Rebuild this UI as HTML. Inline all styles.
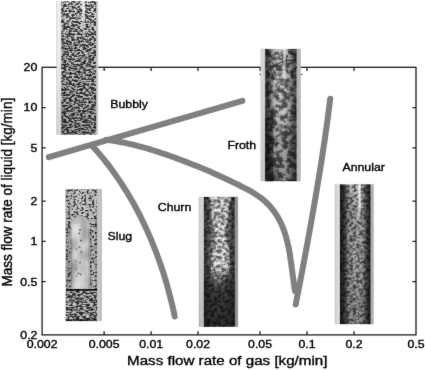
<!DOCTYPE html>
<html><head><meta charset="utf-8"><style>
html,body{margin:0;padding:0;background:#fff;width:425px;height:370px;overflow:hidden}
svg{display:block}
text{font-family:'Liberation Sans', Arial, Helvetica, sans-serif;fill:#000;stroke:#000;stroke-width:0.35px}
</style></head><body>
<svg width="425" height="370" viewBox="0 0 425 370">
<defs><linearGradient id="g1" gradientUnits="userSpaceOnUse" x1="56.5" y1="0" x2="61.2" y2="0"><stop offset="0.0000" stop-color="#c4c4c4"/><stop offset="0.1915" stop-color="#e6e6e6"/><stop offset="0.4255" stop-color="#f2f2f2"/><stop offset="0.8298" stop-color="#ececec"/><stop offset="1.0000" stop-color="#c0c0c0"/></linearGradient><linearGradient id="g2" gradientUnits="userSpaceOnUse" x1="0" y1="1.0" x2="0" y2="134.8"><stop offset="0.0000" stop-color="#000" stop-opacity="0"/><stop offset="0.5157" stop-color="#000" stop-opacity="0.03"/><stop offset="1.0000" stop-color="#000" stop-opacity="0.12"/></linearGradient><linearGradient id="g3" gradientUnits="userSpaceOnUse" x1="96.2" y1="0" x2="98.1" y2="0"><stop offset="0.0000" stop-color="#a8a8a8"/><stop offset="0.4211" stop-color="#c8c8c8"/><stop offset="1.0000" stop-color="#d0d0d0"/></linearGradient><filter id="f4" filterUnits="userSpaceOnUse" x="61.2" y="1.0" width="35.0" height="133.8" color-interpolation-filters="sRGB">
<feTurbulence type="fractalNoise" baseFrequency="0.36 0.56" numOctaves="2" seed="7" result="t"/>
<feColorMatrix in="t" type="matrix" values="1 0 0 0 0 1 0 0 0 0 1 0 0 0 0 0 0 0 0 1" result="g"/>
<feComponentTransfer in="g" result="m"><feFuncR type="table" tableValues="0.140 0.145 0.150 0.155 0.160 0.165 0.170 0.175 0.180 0.185 0.190 0.195 0.200 0.205 0.210 0.215 0.220 0.290 0.360 0.430 0.500 0.606 0.713 0.819 0.848 0.857 0.867 0.876 0.886 0.895 0.905 0.914 0.924 0.933 0.943 0.952 0.962 0.971 0.981 0.990 1.000"/><feFuncG type="table" tableValues="0.140 0.145 0.150 0.155 0.160 0.165 0.170 0.175 0.180 0.185 0.190 0.195 0.200 0.205 0.210 0.215 0.220 0.290 0.360 0.430 0.500 0.606 0.713 0.819 0.848 0.857 0.867 0.876 0.886 0.895 0.905 0.914 0.924 0.933 0.943 0.952 0.962 0.971 0.981 0.990 1.000"/><feFuncB type="table" tableValues="0.140 0.145 0.150 0.155 0.160 0.165 0.170 0.175 0.180 0.185 0.190 0.195 0.200 0.205 0.210 0.215 0.220 0.290 0.360 0.430 0.500 0.606 0.713 0.819 0.848 0.857 0.867 0.876 0.886 0.895 0.905 0.914 0.924 0.933 0.943 0.952 0.962 0.971 0.981 0.990 1.000"/></feComponentTransfer>
<feComposite in="SourceGraphic" in2="m" operator="arithmetic" k1="1" k2="0" k3="0" k4="0" result="c"/>
<feGaussianBlur in="c" stdDeviation="0.35" result="b"/>
<feComposite in="b" in2="SourceGraphic" operator="in"/>
</filter><linearGradient id="g5" gradientUnits="userSpaceOnUse" x1="0" y1="1.0" x2="0" y2="134.8"><stop offset="0.0000" stop-color="#000" stop-opacity="0"/><stop offset="0.2915" stop-color="#000" stop-opacity="0.03"/><stop offset="0.6652" stop-color="#000" stop-opacity="0.08"/><stop offset="1.0000" stop-color="#000" stop-opacity="0.18"/></linearGradient><linearGradient id="g6" gradientUnits="userSpaceOnUse" x1="0" y1="1.0" x2="0" y2="51.0"><stop offset="0.0000" stop-color="#ffffff" stop-opacity="0.9"/><stop offset="0.3800" stop-color="#ffffff" stop-opacity="0.5"/><stop offset="1.0000" stop-color="#ffffff" stop-opacity="0"/></linearGradient><linearGradient id="g7" gradientUnits="userSpaceOnUse" x1="0" y1="1" x2="0" y2="37"><stop offset="0.0000" stop-color="#fff" stop-opacity="0.9"/><stop offset="0.5278" stop-color="#fff" stop-opacity="0.7"/><stop offset="1.0000" stop-color="#fff" stop-opacity="0"/></linearGradient><linearGradient id="g8" gradientUnits="userSpaceOnUse" x1="0" y1="1" x2="0" y2="11"><stop offset="0.0000" stop-color="#fff" stop-opacity="0.45"/><stop offset="1.0000" stop-color="#fff" stop-opacity="0"/></linearGradient><linearGradient id="g9" gradientUnits="userSpaceOnUse" x1="0" y1="1" x2="0" y2="11"><stop offset="0.0000" stop-color="#fff" stop-opacity="0.45"/><stop offset="1.0000" stop-color="#fff" stop-opacity="0"/></linearGradient><linearGradient id="g10" gradientUnits="userSpaceOnUse" x1="260.6" y1="0" x2="265.1" y2="0"><stop offset="0.0000" stop-color="#c4c4c4"/><stop offset="0.1778" stop-color="#d8d8d8"/><stop offset="0.8000" stop-color="#d6d6d6"/><stop offset="1.0000" stop-color="#b4b4b4"/></linearGradient><linearGradient id="g11" gradientUnits="userSpaceOnUse" x1="0" y1="48.7" x2="0" y2="181.39999999999998"><stop offset="0.0000" stop-color="#000" stop-opacity="0"/><stop offset="0.5373" stop-color="#000" stop-opacity="0.04"/><stop offset="1.0000" stop-color="#000" stop-opacity="0.08"/></linearGradient><linearGradient id="g12" gradientUnits="userSpaceOnUse" x1="296.8" y1="0" x2="300.9" y2="0"><stop offset="0.0000" stop-color="#949494"/><stop offset="0.1951" stop-color="#b4b4b4"/><stop offset="1.0000" stop-color="#bcbcbc"/></linearGradient><filter id="f13" filterUnits="userSpaceOnUse" x="265.1" y="48.7" width="31.69999999999999" height="132.7" color-interpolation-filters="sRGB">
<feTurbulence type="fractalNoise" baseFrequency="0.17 0.19" numOctaves="4" seed="3" result="t"/>
<feColorMatrix in="t" type="matrix" values="1 0 0 0 0 1 0 0 0 0 1 0 0 0 0 0 0 0 0 1" result="g"/>
<feComponentTransfer in="g" result="m"><feFuncR type="table" tableValues="0.300 0.305 0.311 0.316 0.321 0.326 0.332 0.337 0.342 0.347 0.353 0.358 0.363 0.368 0.374 0.379 0.420 0.470 0.520 0.570 0.620 0.690 0.760 0.830 0.900 0.906 0.912 0.919 0.925 0.931 0.938 0.944 0.950 0.956 0.963 0.969 0.975 0.981 0.988 0.994 1.000"/><feFuncG type="table" tableValues="0.300 0.305 0.311 0.316 0.321 0.326 0.332 0.337 0.342 0.347 0.353 0.358 0.363 0.368 0.374 0.379 0.420 0.470 0.520 0.570 0.620 0.690 0.760 0.830 0.900 0.906 0.912 0.919 0.925 0.931 0.938 0.944 0.950 0.956 0.963 0.969 0.975 0.981 0.988 0.994 1.000"/><feFuncB type="table" tableValues="0.300 0.305 0.311 0.316 0.321 0.326 0.332 0.337 0.342 0.347 0.353 0.358 0.363 0.368 0.374 0.379 0.420 0.470 0.520 0.570 0.620 0.690 0.760 0.830 0.900 0.906 0.912 0.919 0.925 0.931 0.938 0.944 0.950 0.956 0.963 0.969 0.975 0.981 0.988 0.994 1.000"/></feComponentTransfer>
<feComposite in="SourceGraphic" in2="m" operator="arithmetic" k1="1" k2="0" k3="0" k4="0" result="c"/>
<feGaussianBlur in="c" stdDeviation="0.35" result="b"/>
<feComposite in="b" in2="SourceGraphic" operator="in"/>
</filter><linearGradient id="g14" gradientUnits="userSpaceOnUse" x1="265.1" y1="0" x2="296.8" y2="0"><stop offset="0.0000" stop-color="#484848"/><stop offset="0.0915" stop-color="#555"/><stop offset="0.2019" stop-color="#909090"/><stop offset="0.3123" stop-color="#c8c8c8"/><stop offset="0.5962" stop-color="#d8d8d8"/><stop offset="0.7539" stop-color="#b0b0b0"/><stop offset="0.8486" stop-color="#787878"/><stop offset="1.0000" stop-color="#505050"/></linearGradient><linearGradient id="g15" gradientUnits="userSpaceOnUse" x1="0" y1="48.7" x2="0" y2="181.39999999999998"><stop offset="0.0000" stop-color="#000" stop-opacity="0"/><stop offset="0.4619" stop-color="#000" stop-opacity="0.0"/><stop offset="0.6880" stop-color="#000" stop-opacity="0.15"/><stop offset="1.0000" stop-color="#000" stop-opacity="0.28"/></linearGradient><linearGradient id="g16" gradientUnits="userSpaceOnUse" x1="0" y1="100" x2="0" y2="181.4"><stop offset="0.0000" stop-color="#000" stop-opacity="0"/><stop offset="0.3686" stop-color="#000" stop-opacity="0.35"/><stop offset="1.0000" stop-color="#000" stop-opacity="0.45"/></linearGradient><linearGradient id="g17" gradientUnits="userSpaceOnUse" x1="0" y1="48.7" x2="0" y2="93"><stop offset="0.0000" stop-color="#fff" stop-opacity="0.6"/><stop offset="0.5937" stop-color="#fff" stop-opacity="0.4"/><stop offset="1.0000" stop-color="#fff" stop-opacity="0"/></linearGradient><linearGradient id="g18" gradientUnits="userSpaceOnUse" x1="97.1" y1="0" x2="101.9" y2="0"><stop offset="0.0000" stop-color="#a0a0a0"/><stop offset="0.1875" stop-color="#c8c8c8"/><stop offset="0.6042" stop-color="#c4c4c4"/><stop offset="1.0000" stop-color="#b8b8b8"/></linearGradient><filter id="f19" filterUnits="userSpaceOnUse" x="65.0" y="188.8" width="32.099999999999994" height="100.69999999999999" color-interpolation-filters="sRGB">
<feTurbulence type="fractalNoise" baseFrequency="0.38 0.5" numOctaves="2" seed="11" result="t"/>
<feColorMatrix in="t" type="matrix" values="1 0 0 0 0 1 0 0 0 0 1 0 0 0 0 0 0 0 0 1" result="g"/>
<feComponentTransfer in="g" result="m"><feFuncR type="table" tableValues="0.220 0.226 0.231 0.237 0.242 0.248 0.253 0.259 0.264 0.270 0.276 0.281 0.287 0.292 0.298 0.363 0.469 0.574 0.680 0.776 0.873 0.951 0.953 0.956 0.958 0.961 0.964 0.966 0.969 0.971 0.974 0.977 0.979 0.982 0.984 0.987 0.990 0.992 0.995 0.997 1.000"/><feFuncG type="table" tableValues="0.220 0.226 0.231 0.237 0.242 0.248 0.253 0.259 0.264 0.270 0.276 0.281 0.287 0.292 0.298 0.363 0.469 0.574 0.680 0.776 0.873 0.951 0.953 0.956 0.958 0.961 0.964 0.966 0.969 0.971 0.974 0.977 0.979 0.982 0.984 0.987 0.990 0.992 0.995 0.997 1.000"/><feFuncB type="table" tableValues="0.220 0.226 0.231 0.237 0.242 0.248 0.253 0.259 0.264 0.270 0.276 0.281 0.287 0.292 0.298 0.363 0.469 0.574 0.680 0.776 0.873 0.951 0.953 0.956 0.958 0.961 0.964 0.966 0.969 0.971 0.974 0.977 0.979 0.982 0.984 0.987 0.990 0.992 0.995 0.997 1.000"/></feComponentTransfer>
<feComposite in="SourceGraphic" in2="m" operator="arithmetic" k1="1" k2="0" k3="0" k4="0" result="c"/>
<feGaussianBlur in="c" stdDeviation="0.35" result="b"/>
<feComposite in="b" in2="SourceGraphic" operator="in"/>
</filter><linearGradient id="g20" gradientUnits="userSpaceOnUse" x1="65.0" y1="0" x2="97.1" y2="0"><stop offset="0.0000" stop-color="#d8d8d8"/><stop offset="0.0312" stop-color="#b0b0b0"/><stop offset="0.1090" stop-color="#c0c0c0"/><stop offset="0.2181" stop-color="#c8c8c8"/><stop offset="0.5296" stop-color="#d4d4d4"/><stop offset="0.8411" stop-color="#c4c4c4"/><stop offset="1.0000" stop-color="#c8c8c8"/></linearGradient><filter id="f21" filterUnits="userSpaceOnUse" x="70" y="214" width="21" height="75.5" color-interpolation-filters="sRGB">
<feTurbulence type="fractalNoise" baseFrequency="0.08 0.05" numOctaves="2" seed="4" result="t"/>
<feColorMatrix in="t" type="matrix" values="1 0 0 0 0 1 0 0 0 0 1 0 0 0 0 0 0 0 0 1" result="g"/>
<feComposite in="SourceGraphic" in2="g" operator="arithmetic" k1="0" k2="1" k3="0.5" k4="-0.250" result="c"/>
<feGaussianBlur in="c" stdDeviation="0.5" result="b"/>
<feComposite in="b" in2="SourceGraphic" operator="in"/>
</filter><filter id="f22" filterUnits="userSpaceOnUse" x="65.0" y="289.5" width="32.099999999999994" height="31.69999999999999" color-interpolation-filters="sRGB">
<feTurbulence type="fractalNoise" baseFrequency="0.3 0.55" numOctaves="2" seed="21" result="t"/>
<feColorMatrix in="t" type="matrix" values="1 0 0 0 0 1 0 0 0 0 1 0 0 0 0 0 0 0 0 1" result="g"/>
<feComponentTransfer in="g" result="m"><feFuncR type="table" tableValues="0.140 0.145 0.150 0.155 0.160 0.165 0.170 0.175 0.180 0.185 0.190 0.195 0.200 0.205 0.210 0.215 0.220 0.290 0.360 0.430 0.500 0.606 0.713 0.819 0.848 0.857 0.867 0.876 0.886 0.895 0.905 0.914 0.924 0.933 0.943 0.952 0.962 0.971 0.981 0.990 1.000"/><feFuncG type="table" tableValues="0.140 0.145 0.150 0.155 0.160 0.165 0.170 0.175 0.180 0.185 0.190 0.195 0.200 0.205 0.210 0.215 0.220 0.290 0.360 0.430 0.500 0.606 0.713 0.819 0.848 0.857 0.867 0.876 0.886 0.895 0.905 0.914 0.924 0.933 0.943 0.952 0.962 0.971 0.981 0.990 1.000"/><feFuncB type="table" tableValues="0.140 0.145 0.150 0.155 0.160 0.165 0.170 0.175 0.180 0.185 0.190 0.195 0.200 0.205 0.210 0.215 0.220 0.290 0.360 0.430 0.500 0.606 0.713 0.819 0.848 0.857 0.867 0.876 0.886 0.895 0.905 0.914 0.924 0.933 0.943 0.952 0.962 0.971 0.981 0.990 1.000"/></feComponentTransfer>
<feComposite in="SourceGraphic" in2="m" operator="arithmetic" k1="1" k2="0" k3="0" k4="0" result="c"/>
<feGaussianBlur in="c" stdDeviation="0.35" result="b"/>
<feComposite in="b" in2="SourceGraphic" operator="in"/>
</filter><linearGradient id="g23" gradientUnits="userSpaceOnUse" x1="198.8" y1="0" x2="203.8" y2="0"><stop offset="0.0000" stop-color="#b4b4b4"/><stop offset="0.2000" stop-color="#d2d2d2"/><stop offset="0.6400" stop-color="#d8d8d8"/><stop offset="0.8800" stop-color="#c8c8c8"/><stop offset="1.0000" stop-color="#a0a0a0"/></linearGradient><linearGradient id="g24" gradientUnits="userSpaceOnUse" x1="0" y1="196.7" x2="0" y2="326.8"><stop offset="0.0000" stop-color="#000" stop-opacity="0"/><stop offset="0.4865" stop-color="#000" stop-opacity="0.03"/><stop offset="1.0000" stop-color="#000" stop-opacity="0.12"/></linearGradient><linearGradient id="g25" gradientUnits="userSpaceOnUse" x1="234.9" y1="0" x2="238.1" y2="0"><stop offset="0.0000" stop-color="#7a7a7a"/><stop offset="0.2813" stop-color="#929292"/><stop offset="1.0000" stop-color="#9c9c9c"/></linearGradient><filter id="f26" filterUnits="userSpaceOnUse" x="203.8" y="196.7" width="31.099999999999994" height="130.10000000000002" color-interpolation-filters="sRGB">
<feTurbulence type="fractalNoise" baseFrequency="0.28 0.32" numOctaves="2" seed="5" result="t"/>
<feColorMatrix in="t" type="matrix" values="1 0 0 0 0 1 0 0 0 0 1 0 0 0 0 0 0 0 0 1" result="g"/>
<feComponentTransfer in="g" result="m"><feFuncR type="table" tableValues="0.300 0.311 0.321 0.332 0.343 0.354 0.364 0.375 0.386 0.396 0.407 0.418 0.429 0.439 0.450 0.500 0.550 0.600 0.650 0.700 0.750 0.792 0.833 0.875 0.917 0.958 1.000 1.000 1.000 1.000 1.000 1.000 1.000 1.000 1.000 1.000 1.000 1.000 1.000 1.000 1.000"/><feFuncG type="table" tableValues="0.300 0.311 0.321 0.332 0.343 0.354 0.364 0.375 0.386 0.396 0.407 0.418 0.429 0.439 0.450 0.500 0.550 0.600 0.650 0.700 0.750 0.792 0.833 0.875 0.917 0.958 1.000 1.000 1.000 1.000 1.000 1.000 1.000 1.000 1.000 1.000 1.000 1.000 1.000 1.000 1.000"/><feFuncB type="table" tableValues="0.300 0.311 0.321 0.332 0.343 0.354 0.364 0.375 0.386 0.396 0.407 0.418 0.429 0.439 0.450 0.500 0.550 0.600 0.650 0.700 0.750 0.792 0.833 0.875 0.917 0.958 1.000 1.000 1.000 1.000 1.000 1.000 1.000 1.000 1.000 1.000 1.000 1.000 1.000 1.000 1.000"/></feComponentTransfer>
<feComposite in="SourceGraphic" in2="m" operator="arithmetic" k1="1" k2="0" k3="0" k4="0" result="c"/>
<feGaussianBlur in="c" stdDeviation="0.4" result="b"/>
<feComposite in="b" in2="SourceGraphic" operator="in"/>
</filter><linearGradient id="g27" gradientUnits="userSpaceOnUse" x1="203.8" y1="0" x2="234.9" y2="0"><stop offset="0.0000" stop-color="#3e3e3e"/><stop offset="0.1029" stop-color="#4c4c4c"/><stop offset="0.2315" stop-color="#7a7a7a"/><stop offset="0.3923" stop-color="#a0a0a0"/><stop offset="0.6495" stop-color="#9c9c9c"/><stop offset="0.8103" stop-color="#6a6a6a"/><stop offset="0.9068" stop-color="#4c4c4c"/><stop offset="1.0000" stop-color="#3c3c3c"/></linearGradient><linearGradient id="g28" gradientUnits="userSpaceOnUse" x1="0" y1="266" x2="0" y2="326.8"><stop offset="0.0000" stop-color="#262626" stop-opacity="0"/><stop offset="0.3618" stop-color="#262626" stop-opacity="0.7"/><stop offset="0.6414" stop-color="#262626" stop-opacity="0.84"/><stop offset="1.0000" stop-color="#262626" stop-opacity="0.9"/></linearGradient><linearGradient id="g29" gradientUnits="userSpaceOnUse" x1="334.8" y1="0" x2="340.0" y2="0"><stop offset="0.0000" stop-color="#bcbcbc"/><stop offset="0.1923" stop-color="#d0d0d0"/><stop offset="0.6154" stop-color="#dedede"/><stop offset="0.8846" stop-color="#d0d0d0"/><stop offset="1.0000" stop-color="#a8a8a8"/></linearGradient><linearGradient id="g30" gradientUnits="userSpaceOnUse" x1="370.8" y1="0" x2="374.0" y2="0"><stop offset="0.0000" stop-color="#909090"/><stop offset="0.2500" stop-color="#b0b0b0"/><stop offset="1.0000" stop-color="#c4c4c4"/></linearGradient><filter id="f31" filterUnits="userSpaceOnUse" x="340.0" y="184.2" width="30.80000000000001" height="140.2" color-interpolation-filters="sRGB">
<feTurbulence type="fractalNoise" baseFrequency="0.3 0.36" numOctaves="2" seed="9" result="t"/>
<feColorMatrix in="t" type="matrix" values="1 0 0 0 0 1 0 0 0 0 1 0 0 0 0 0 0 0 0 1" result="g"/>
<feComponentTransfer in="g" result="m"><feFuncR type="table" tableValues="0.300 0.311 0.321 0.332 0.343 0.354 0.364 0.375 0.386 0.396 0.407 0.418 0.429 0.439 0.450 0.500 0.550 0.600 0.650 0.700 0.750 0.792 0.833 0.875 0.917 0.958 1.000 1.000 1.000 1.000 1.000 1.000 1.000 1.000 1.000 1.000 1.000 1.000 1.000 1.000 1.000"/><feFuncG type="table" tableValues="0.300 0.311 0.321 0.332 0.343 0.354 0.364 0.375 0.386 0.396 0.407 0.418 0.429 0.439 0.450 0.500 0.550 0.600 0.650 0.700 0.750 0.792 0.833 0.875 0.917 0.958 1.000 1.000 1.000 1.000 1.000 1.000 1.000 1.000 1.000 1.000 1.000 1.000 1.000 1.000 1.000"/><feFuncB type="table" tableValues="0.300 0.311 0.321 0.332 0.343 0.354 0.364 0.375 0.386 0.396 0.407 0.418 0.429 0.439 0.450 0.500 0.550 0.600 0.650 0.700 0.750 0.792 0.833 0.875 0.917 0.958 1.000 1.000 1.000 1.000 1.000 1.000 1.000 1.000 1.000 1.000 1.000 1.000 1.000 1.000 1.000"/></feComponentTransfer>
<feComposite in="SourceGraphic" in2="m" operator="arithmetic" k1="1" k2="0" k3="0" k4="0" result="c"/>
<feGaussianBlur in="c" stdDeviation="0.4" result="b"/>
<feComposite in="b" in2="SourceGraphic" operator="in"/>
</filter><linearGradient id="g32" gradientUnits="userSpaceOnUse" x1="340.0" y1="0" x2="370.8" y2="0"><stop offset="0.0000" stop-color="#262626"/><stop offset="0.0974" stop-color="#2e2e2e"/><stop offset="0.1948" stop-color="#5a5a5a"/><stop offset="0.2922" stop-color="#a0a0a0"/><stop offset="0.5519" stop-color="#b4b4b4"/><stop offset="0.7468" stop-color="#a0a0a0"/><stop offset="0.8442" stop-color="#5a5a5a"/><stop offset="0.9091" stop-color="#363636"/><stop offset="1.0000" stop-color="#2c2c2c"/></linearGradient><linearGradient id="g33" gradientUnits="userSpaceOnUse" x1="0" y1="184.2" x2="0" y2="206"><stop offset="0.0000" stop-color="#fff" stop-opacity="0.35"/><stop offset="1.0000" stop-color="#fff" stop-opacity="0"/></linearGradient><linearGradient id="g34" gradientUnits="userSpaceOnUse" x1="0" y1="184.2" x2="0" y2="324.4"><stop offset="0.0000" stop-color="#000" stop-opacity="0"/><stop offset="0.4693" stop-color="#000" stop-opacity="0.0"/><stop offset="1.0000" stop-color="#000" stop-opacity="0.15"/></linearGradient><linearGradient id="g35" gradientUnits="userSpaceOnUse" x1="0" y1="184.2" x2="0" y2="222"><stop offset="0.0000" stop-color="#fff" stop-opacity="0.85"/><stop offset="0.6296" stop-color="#fff" stop-opacity="0.7"/><stop offset="1.0000" stop-color="#fff" stop-opacity="0"/></linearGradient><filter id="soft" filterUnits="userSpaceOnUse" x="0" y="0" width="425" height="370" color-interpolation-filters="sRGB"><feConvolveMatrix order="3" kernelMatrix="0.00524 0.06192 0.00524 0.06192 0.73137 0.06192 0.00524 0.06192 0.00524" edgeMode="duplicate"/></filter></defs>
<rect width="425" height="370" fill="#fff"/>
<g filter="url(#soft)">
<rect width="425" height="370" fill="#fff"/>
<rect x="42.1" y="67.3" width="373.90" height="267.60" fill="none" stroke="#1e1e1e" stroke-width="1.3"/>
<path d="M104.15,334.9v-3.6M104.15,67.3v3.6M151.09,334.9v-3.6M151.09,67.3v3.6M198.03,334.9v-3.6M198.03,67.3v3.6M260.07,334.9v-3.6M260.07,67.3v3.6M307.01,334.9v-3.6M307.01,67.3v3.6M353.95,334.9v-3.6M353.95,67.3v3.6M42.1,107.58h3.6M416.0,107.58h-3.6M42.1,147.86h3.6M416.0,147.86h-3.6M42.1,201.10h3.6M416.0,201.10h-3.6M42.1,241.38h3.6M416.0,241.38h-3.6M42.1,281.66h3.6M416.0,281.66h-3.6" stroke="#1e1e1e" stroke-width="1.3" fill="none"/>
<text transform="translate(26.75,347.70) scale(1.12,1)" font-size="11">0.002</text>
<text transform="translate(88.75,347.70) scale(1.12,1)" font-size="11">0.005</text>
<text transform="translate(139.15,347.70) scale(1.12,1)" font-size="11">0.01</text>
<text transform="translate(186.10,347.70) scale(1.12,1)" font-size="11">0.02</text>
<text transform="translate(248.10,347.70) scale(1.12,1)" font-size="11">0.05</text>
<text transform="translate(298.50,347.70) scale(1.12,1)" font-size="11">0.1</text>
<text transform="translate(345.45,347.70) scale(1.12,1)" font-size="11">0.2</text>
<text transform="translate(407.45,347.70) scale(1.12,1)" font-size="11">0.5</text>
<text transform="translate(23.57,71.15) scale(1.12,1)" font-size="11">20</text>
<text transform="translate(23.57,111.43) scale(1.12,1)" font-size="11">10</text>
<text transform="translate(30.47,151.71) scale(1.12,1)" font-size="11">5</text>
<text transform="translate(30.57,204.95) scale(1.12,1)" font-size="11">2</text>
<text transform="translate(30.54,245.23) scale(1.12,1)" font-size="11">1</text>
<text transform="translate(20.19,285.51) scale(1.12,1)" font-size="11">0.5</text>
<text transform="translate(20.29,338.75) scale(1.12,1)" font-size="11">0.2</text>
<text transform="translate(127.06,365.40) scale(1.12,1)" font-size="13.54" >Mass flow rate of gas [kg/min]</text>
<text transform="translate(11.6,286.51) rotate(-90) scale(1,1.12)" font-size="13.54">Mass flow rate of liquid [kg/min]</text>
<text transform="translate(110.29,107.60) scale(1.12,1)" font-size="11" >Bubbly</text>
<text transform="translate(227.39,149.10) scale(1.12,1)" font-size="11" >Froth</text>
<text transform="translate(342.48,171.00) scale(1.12,1)" font-size="11" >Annular</text>
<text transform="translate(107.53,240.00) scale(1.12,1)" font-size="11" >Slug</text>
<text transform="translate(157.78,210.60) scale(1.12,1)" font-size="11" >Churn</text>
<g fill="none" stroke="#808080" stroke-width="6" stroke-linecap="round">
<path d="M48.8,157.2 L242.4,100.8"/>
<path d="M91.5,145.0 L94.1,147.9 L96.8,150.9 L99.3,153.9 L101.8,156.9 L104.3,159.9 L106.8,163.0 L109.2,166.1 L111.5,169.3 L113.8,172.5 L116.1,175.7 L118.3,178.9 L120.5,182.2 L122.7,185.5 L124.8,188.8 L126.9,192.1 L128.9,195.5 L130.9,198.9 L132.9,202.3 L134.8,205.8 L136.6,209.2 L138.5,212.7 L140.3,216.2 L142.0,219.8 L143.8,223.3 L145.4,226.9 L147.1,230.5 L148.7,234.1 L150.3,237.7 L151.8,241.3 L153.3,245.0 L154.7,248.7 L156.2,252.3 L157.5,256.0 L158.9,259.7 L160.2,263.5 L161.5,267.2 L162.7,270.9 L163.9,274.7 L165.1,278.5 L166.2,282.2 L167.3,286.0 L168.3,289.8 L169.3,293.6 L170.3,297.4 L171.3,301.2 L172.2,305.0 L173.1,308.9 L173.9,312.7 L174.7,316.5"/>
<path d="M106.0,139.8 L109.9,140.3 L113.8,140.8 L117.6,141.5 L121.4,142.2 L125.3,142.9 L129.1,143.8 L132.8,144.6 L136.6,145.6 L140.4,146.6 L144.1,147.6 L147.9,148.7 L151.6,149.8 L155.3,151.0 L159.0,152.2 L162.7,153.5 L166.4,154.7 L170.1,156.0 L173.7,157.3 L177.4,158.6 L181.0,160.0 L184.7,161.4 L188.3,162.8 L191.9,164.2 L195.5,165.6 L199.1,167.1 L202.7,168.6 L206.3,170.1 L209.9,171.6 L213.5,173.2 L217.0,174.8 L220.6,176.4 L224.1,178.0 L227.7,179.7 L231.2,181.4 L234.7,183.1 L238.3,184.8 L241.8,186.6 L245.3,188.4 L248.7,190.2 L252.2,192.2 L255.5,194.2 L258.7,196.4 L261.8,198.6 L264.7,201.1 L267.5,203.7 L270.1,206.5 L272.5,209.4 L274.8,212.5 L276.9,215.6 L278.8,218.9 L280.6,222.3 L282.2,225.8 L283.6,229.4 L284.9,233.1 L286.0,236.9 L287.0,240.7 L287.9,244.5 L288.8,248.4 L289.5,252.3 L290.1,256.3 L290.7,260.2 L291.3,264.2 L291.8,268.1 L292.3,272.0 L292.9,275.9 L293.4,279.7 L293.9,283.5 L294.4,287.3 L295.0,291.0"/>
<path d="M330.2,98.8 C322.0,167.9 309.1,236.3 295.7,304.5"/>
</g>
<rect x="56.5" y="1.0" width="4.70" height="133.80" fill="url(#g1)" />
<rect x="56.5" y="1.0" width="4.70" height="133.80" fill="url(#g2)" />
<rect x="96.2" y="1.0" width="1.90" height="133.80" fill="url(#g3)" />
<g filter="url(#f4)"><rect x="61.2" y="1.0" width="35.00" height="133.80" fill="#e4e4e4" /><rect x="61.2" y="1.0" width="35.00" height="133.80" fill="url(#g5)" /><rect x="61.2" y="1.0" width="35.00" height="50.00" fill="url(#g6)" /><rect x="61.2" y="1.0" width="4.00" height="133.80" fill="#000" opacity="0.1"/></g>
<rect x="82.2" y="1.0" width="2.60" height="36.00" fill="url(#g7)" />
<rect x="69.4" y="1.0" width="1.50" height="10.00" fill="url(#g8)" />
<rect x="75.5" y="1.0" width="1.50" height="10.00" fill="url(#g9)" />
<rect x="260.6" y="48.7" width="4.50" height="132.70" fill="url(#g10)" />
<rect x="260.6" y="48.7" width="4.50" height="132.70" fill="url(#g11)" />
<rect x="296.8" y="48.7" width="4.10" height="132.70" fill="url(#g12)" />
<g filter="url(#f13)"><rect x="265.1" y="48.7" width="31.70" height="132.70" fill="url(#g14)" /><rect x="265.1" y="48.7" width="31.70" height="132.70" fill="url(#g15)" /><rect x="265.1" y="100" width="8.00" height="81.40" fill="url(#g16)" /></g>
<path d="M266,66 C268,66 270,67.5 273,67 C276,66 278,63.5 281,62.5 C284,61 287,60 290,60.3 C293,60.6 295,61.5 296.8,62.5" stroke="#2a2a2a" stroke-width="1.3" fill="none" opacity="0.85"/>
<path d="M270,69.5 C272,72 273,75 273,79" stroke="#333" stroke-width="1" fill="none" opacity="0.7"/>
<rect x="283.2" y="48.7" width="2.40" height="44.00" fill="url(#g17)" />
<circle cx="260.2" cy="74.5" r="0.7" fill="#333"/><circle cx="301.6" cy="74.4" r="0.7" fill="#333"/>
<rect x="97.1" y="188.8" width="4.80" height="132.40" fill="url(#g18)" />
<g filter="url(#f19)"><rect x="65.0" y="188.8" width="32.10" height="100.70" fill="url(#g20)" /><rect x="65.8" y="224" width="4.60" height="65.50" fill="#a4a4a4" /><rect x="89" y="230" width="3.00" height="59.50" fill="#a8a8a8" /><rect x="95.4" y="215" width="1.20" height="74.50" fill="#8a8a8a" /></g>
<g filter="url(#f21)"><path d="M70.8,289.5 L70.8,228 C70.8,220.5 75,215.2 80.5,215.2 C86,215.2 90.2,220.5 90.2,228 L90.2,289.5 Z" fill="#b8b8b8"/><rect x="74" y="224" width="6.00" height="64.50" fill="#cecece" opacity="0.5"/><rect x="70.8" y="227" width="1.40" height="61.50" fill="#7a7a7a" opacity="0.6"/><rect x="88.4" y="228" width="1.20" height="60.50" fill="#8a8a8a" opacity="0.6"/></g>
<g fill="#555" opacity="0.8"><circle cx="80" cy="230" r="1.1"/><circle cx="79.2" cy="233.5" r="1.0"/><circle cx="81" cy="240.5" r="1.1"/><circle cx="79.5" cy="247" r="0.9"/><circle cx="76.5" cy="249" r="0.8"/><circle cx="81.5" cy="252" r="0.9"/><circle cx="76" cy="261" r="0.8"/><circle cx="80" cy="262.5" r="1.0"/><circle cx="75.8" cy="269" r="0.8"/><circle cx="78.6" cy="273.5" r="1.0"/><circle cx="80.8" cy="274.5" r="0.9"/><circle cx="76.5" cy="276" r="0.7"/></g>
<g filter="url(#f22)"><rect x="65.0" y="289.5" width="32.10" height="31.70" fill="#d4d4d4" /><rect x="65.0" y="319.2" width="32.10" height="2.00" fill="#555" /><rect x="65.0" y="289.0" width="32.10" height="1.80" fill="#2a2a2a" /></g>
<rect x="65.0" y="188.8" width="1.00" height="132.40" fill="#d0d0d0" />
<rect x="198.8" y="196.7" width="5.00" height="130.10" fill="url(#g23)" />
<rect x="198.8" y="196.7" width="5.00" height="130.10" fill="url(#g24)" />
<rect x="234.9" y="196.7" width="3.20" height="130.10" fill="url(#g25)" />
<g filter="url(#f26)"><rect x="203.8" y="196.7" width="31.10" height="130.10" fill="url(#g27)" /><path d="M210,196.7 L231,196.7 C229,210 227,222 225.5,236 C229,246 231.5,258 229,272 C226,284 214,286 211.5,274 C209.5,262 212.5,250 215.5,240 C213,225 211,210 210,196.7 Z" fill="#ffffff" opacity="0.62"/><path d="M213,196.7 L228,196.7 C226,212 224.5,224 223.5,236 C226,248 227,260 225,270 C222,276 217,276 215,270 C213.5,260 215,250 217.5,240 C215.5,225 214,210 213,196.7 Z" fill="#ffffff" opacity="0.35"/><rect x="203.8" y="266" width="31.10" height="60.80" fill="url(#g28)" /></g>
<rect x="334.8" y="184.2" width="5.20" height="140.20" fill="url(#g29)" />
<rect x="370.8" y="184.2" width="3.20" height="140.20" fill="url(#g30)" />
<g filter="url(#f31)"><rect x="340.0" y="184.2" width="30.80" height="140.20" fill="url(#g32)" /><rect x="346" y="184.2" width="14.00" height="22.00" fill="url(#g33)" /><rect x="340.0" y="184.2" width="30.80" height="140.20" fill="url(#g34)" /></g>
<rect x="358.3" y="184.2" width="2.40" height="38.00" fill="url(#g35)" />
</g>
</svg>
</body></html>
